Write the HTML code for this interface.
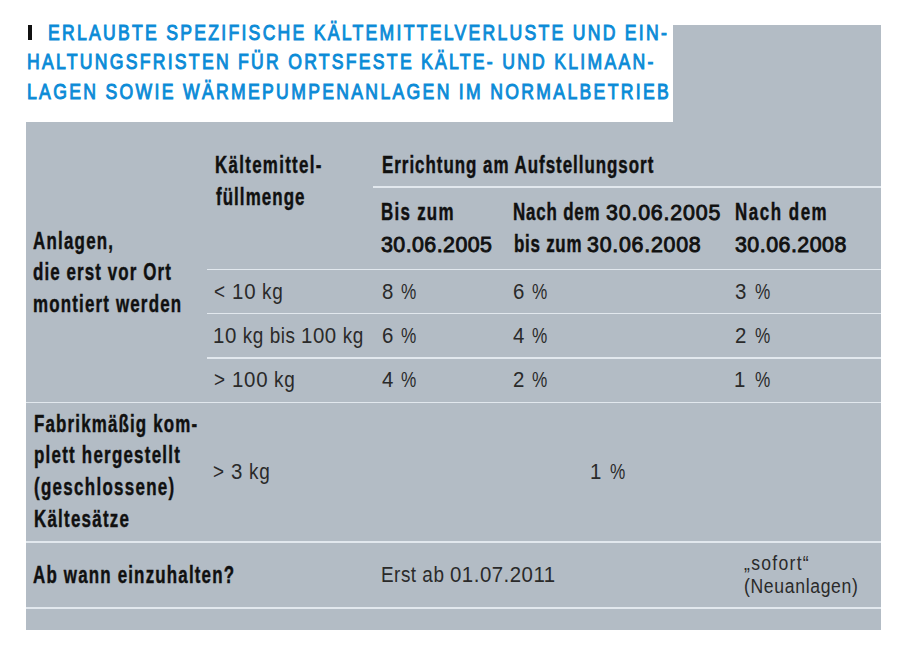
<!DOCTYPE html>
<html><head><meta charset="utf-8"><style>
html,body{margin:0;padding:0;background:#fff;}
body{width:900px;height:648px;position:relative;overflow:hidden;font-family:"Liberation Sans",sans-serif;}
#grey{position:absolute;left:26px;top:25px;width:855px;height:605px;background:#b3bcc5;}
#white{position:absolute;left:0;top:0;width:673px;height:122px;background:#ffffff;}
#bar{position:absolute;left:27.6px;top:24.5px;width:4.4px;height:15.7px;background:#111;}
.t,.b,.r{position:absolute;white-space:pre;line-height:1;}
.o{display:inline-block;white-space:pre;}
.i{display:inline-block;white-space:pre;transform-origin:0 0;}
.bl{display:inline-block;width:0;height:0;}
.b .dg{font-size:22.5px;font-weight:normal;-webkit-text-stroke:0.9px #101010;}
.t{font-size:22px;font-weight:normal;color:#0b8bd7;-webkit-text-stroke:1.0px #0b8bd7;}
.b{font-size:23.5px;font-weight:bold;color:#101010;-webkit-text-stroke:0.45px #101010;}
.r{font-size:21.5px;font-weight:normal;color:#2a2a2a;}
.ln{position:absolute;height:1.8px;background:#e2e8ee;}
</style></head><body>
<div id="grey"></div>
<div id="white"></div>
<div id="bar"></div>
<div class="ln" style="left:373px;top:186.10px;width:508px"></div>
<div class="ln" style="left:207px;top:268.70px;width:674px"></div>
<div class="ln" style="left:207px;top:312.70px;width:674px"></div>
<div class="ln" style="left:207px;top:357.10px;width:674px"></div>
<div class="ln" style="left:26px;top:401.60px;width:855px"></div>
<div class="ln" style="left:26px;top:540.90px;width:855px"></div>
<div class="ln" style="left:26px;top:607.00px;width:855px"></div>
<div class="t" id="e0" style="left:47.50px;top:22.00px"><span class="o" style="width:621.032px"><span class="i" style="letter-spacing:2.837px;transform:scaleX(0.8000)">ERLAUBTE SPEZIFISCHE KÄLTEMITTELVERLUSTE UND EIN-</span></span><span class="bl"></span></div>
<div class="t" id="e1" style="left:27.00px;top:51.31px"><span class="o" style="width:628.533px"><span class="i" style="letter-spacing:2.838px;transform:scaleX(0.8000)">HALTUNGSFRISTEN FÜR ORTSFESTE KÄLTE- UND KLIMAAN-</span></span><span class="bl"></span></div>
<div class="t" id="e2" style="left:27.00px;top:80.50px"><span class="o" style="width:644.060px"><span class="i" style="letter-spacing:2.903px;transform:scaleX(0.8000)">LAGEN SOWIE WÄRMEPUMPENANLAGEN IM NORMALBETRIEB</span></span><span class="bl"></span></div>
<div class="b" id="e3" style="left:214.50px;top:153.50px"><span class="o" style="width:107.672px"><span class="i" style="letter-spacing:1.799px;transform:scaleX(0.7200)">Kältemittel-</span></span><span class="bl"></span></div>
<div class="b" id="e4" style="left:215.50px;top:185.50px"><span class="o" style="width:89.512px"><span class="i" style="letter-spacing:1.482px;transform:scaleX(0.7200)">füllmenge</span></span><span class="bl"></span></div>
<div class="b" id="e5" style="left:381.60px;top:153.50px"><span class="o" style="width:272.258px"><span class="i" style="letter-spacing:1.364px;transform:scaleX(0.7200)">Errichtung am Aufstellungsort</span></span><span class="bl"></span></div>
<div class="b" id="e6" style="left:381.00px;top:201.00px"><span class="o" style="width:73.797px"><span class="i" style="letter-spacing:1.772px;transform:scaleX(0.7200)">Bis zum</span></span><span class="bl"></span></div>
<div class="b" id="e7" style="left:381.00px;top:232.50px"><span class="o dg" style="width:111.378px"><span class="i" style="letter-spacing:0.462px;transform:scaleX(0.9500)">30.06.2005</span></span><span class="bl"></span></div>
<div class="b" id="e8" style="left:513.20px;top:201.21px"><span class="o" style="width:92.851px"><span class="i" style="letter-spacing:1.126px;transform:scaleX(0.7200)">Nach dem </span></span><span class="o dg" style="width:115.099px"><span class="i" style="letter-spacing:0.853px;transform:scaleX(0.9500)">30.06.2005</span></span><span class="bl"></span></div>
<div class="b" id="e9" style="left:513.60px;top:232.50px"><span class="o" style="width:73.694px"><span class="i" style="letter-spacing:1.042px;transform:scaleX(0.7200)">bis zum </span></span><span class="o dg" style="width:114.497px"><span class="i" style="letter-spacing:0.790px;transform:scaleX(0.9500)">30.06.2008</span></span><span class="bl"></span></div>
<div class="b" id="e10" style="left:735.20px;top:201.21px"><span class="o" style="width:93.159px"><span class="i" style="letter-spacing:2.136px;transform:scaleX(0.7200)">Nach dem</span></span><span class="bl"></span></div>
<div class="b" id="e11" style="left:735.20px;top:232.80px"><span class="o dg" style="width:111.823px"><span class="i" style="letter-spacing:0.508px;transform:scaleX(0.9500)">30.06.2008</span></span><span class="bl"></span></div>
<div class="b" id="e12" style="left:33.20px;top:229.71px"><span class="o" style="width:81.293px"><span class="i" style="letter-spacing:1.709px;transform:scaleX(0.7200)">Anlagen,</span></span><span class="bl"></span></div>
<div class="b" id="e13" style="left:33.20px;top:261.21px"><span class="o" style="width:138.876px"><span class="i" style="letter-spacing:1.527px;transform:scaleX(0.7200)">die erst vor Ort</span></span><span class="bl"></span></div>
<div class="b" id="e14" style="left:33.20px;top:292.90px"><span class="o" style="width:149.233px"><span class="i" style="letter-spacing:1.631px;transform:scaleX(0.7200)">montiert werden</span></span><span class="bl"></span></div>
<div class="b" id="e15" style="left:33.80px;top:412.61px"><span class="o" style="width:164.233px"><span class="i" style="letter-spacing:1.607px;transform:scaleX(0.7200)">Fabrikmäßig kom-</span></span><span class="bl"></span></div>
<div class="b" id="e16" style="left:33.80px;top:444.30px"><span class="o" style="width:147.014px"><span class="i" style="letter-spacing:1.719px;transform:scaleX(0.7200)">plett hergestellt</span></span><span class="bl"></span></div>
<div class="b" id="e17" style="left:33.80px;top:476.21px"><span class="o" style="width:141.485px"><span class="i" style="letter-spacing:1.817px;transform:scaleX(0.7200)">(geschlossene)</span></span><span class="bl"></span></div>
<div class="b" id="e18" style="left:33.80px;top:508.21px"><span class="o" style="width:96.086px"><span class="i" style="letter-spacing:1.723px;transform:scaleX(0.7200)">Kältesätze</span></span><span class="bl"></span></div>
<div class="b" id="e19" style="left:33.20px;top:563.80px"><span class="o" style="width:202.240px"><span class="i" style="letter-spacing:1.641px;transform:scaleX(0.7200)">Ab wann einzuhalten?</span></span><span class="bl"></span></div>
<div class="r" id="e20" style="left:214.00px;top:282.21px"><span class="o" style="width:17.877px"><span class="i" style="letter-spacing:0.892px;transform:scaleX(0.8800)">&lt; </span></span><span class="o" style="width:24.281px"><span class="i" style="letter-spacing:0.826px;transform:scaleX(0.9500)">10</span></span><span class="o" style="width:27.586px"><span class="i" style="letter-spacing:0.892px;transform:scaleX(0.8800)"> kg</span></span><span class="bl"></span></div>
<div class="r" id="e21" style="left:381.60px;top:282.21px"><span class="o" style="width:12.601px"><span class="i" style="letter-spacing:1.312px;transform:scaleX(0.9500)">8</span></span><span class="o" style="width:6.499px"><span class="i" style="letter-spacing:1.416px;transform:scaleX(0.8800)"> </span></span><span class="o" style="width:16.534px"><span class="i" style="letter-spacing:1.558px;transform:scaleX(0.8000)">%</span></span><span class="bl"></span></div>
<div class="r" id="e22" style="left:512.70px;top:282.21px"><span class="o" style="width:12.901px"><span class="i" style="letter-spacing:1.627px;transform:scaleX(0.9500)">6</span></span><span class="o" style="width:6.799px"><span class="i" style="letter-spacing:1.757px;transform:scaleX(0.8800)"> </span></span><span class="o" style="width:16.834px"><span class="i" style="letter-spacing:1.933px;transform:scaleX(0.8000)">%</span></span><span class="bl"></span></div>
<div class="r" id="e23" style="left:735.20px;top:282.21px"><span class="o" style="width:12.851px"><span class="i" style="letter-spacing:1.575px;transform:scaleX(0.9500)">3</span></span><span class="o" style="width:6.749px"><span class="i" style="letter-spacing:1.700px;transform:scaleX(0.8800)"> </span></span><span class="o" style="width:16.784px"><span class="i" style="letter-spacing:1.870px;transform:scaleX(0.8000)">%</span></span><span class="bl"></span></div>
<div class="r" id="e24" style="left:213.00px;top:326.21px"><span class="o" style="width:23.781px"><span class="i" style="letter-spacing:0.563px;transform:scaleX(0.9500)">10</span></span><span class="o" style="width:64.204px"><span class="i" style="letter-spacing:0.608px;transform:scaleX(0.8800)"> kg bis </span></span><span class="o" style="width:35.672px"><span class="i" style="letter-spacing:0.563px;transform:scaleX(0.9500)">100</span></span><span class="o" style="width:26.837px"><span class="i" style="letter-spacing:0.608px;transform:scaleX(0.8800)"> kg</span></span><span class="bl"></span></div>
<div class="r" id="e25" style="left:381.60px;top:326.21px"><span class="o" style="width:12.601px"><span class="i" style="letter-spacing:1.312px;transform:scaleX(0.9500)">6</span></span><span class="o" style="width:6.499px"><span class="i" style="letter-spacing:1.416px;transform:scaleX(0.8800)"> </span></span><span class="o" style="width:16.534px"><span class="i" style="letter-spacing:1.558px;transform:scaleX(0.8000)">%</span></span><span class="bl"></span></div>
<div class="r" id="e26" style="left:512.70px;top:326.21px"><span class="o" style="width:12.901px"><span class="i" style="letter-spacing:1.627px;transform:scaleX(0.9500)">4</span></span><span class="o" style="width:6.799px"><span class="i" style="letter-spacing:1.757px;transform:scaleX(0.8800)"> </span></span><span class="o" style="width:16.834px"><span class="i" style="letter-spacing:1.933px;transform:scaleX(0.8000)">%</span></span><span class="bl"></span></div>
<div class="r" id="e27" style="left:735.20px;top:326.21px"><span class="o" style="width:12.851px"><span class="i" style="letter-spacing:1.575px;transform:scaleX(0.9500)">2</span></span><span class="o" style="width:6.749px"><span class="i" style="letter-spacing:1.700px;transform:scaleX(0.8800)"> </span></span><span class="o" style="width:16.784px"><span class="i" style="letter-spacing:1.870px;transform:scaleX(0.8000)">%</span></span><span class="bl"></span></div>
<div class="r" id="e28" style="left:214.00px;top:369.81px"><span class="o" style="width:17.837px"><span class="i" style="letter-spacing:0.869px;transform:scaleX(0.8800)">&gt; </span></span><span class="o" style="width:36.361px"><span class="i" style="letter-spacing:0.805px;transform:scaleX(0.9500)">100</span></span><span class="o" style="width:27.526px"><span class="i" style="letter-spacing:0.869px;transform:scaleX(0.8800)"> kg</span></span><span class="bl"></span></div>
<div class="r" id="e29" style="left:381.60px;top:369.81px"><span class="o" style="width:12.601px"><span class="i" style="letter-spacing:1.312px;transform:scaleX(0.9500)">4</span></span><span class="o" style="width:6.499px"><span class="i" style="letter-spacing:1.416px;transform:scaleX(0.8800)"> </span></span><span class="o" style="width:16.534px"><span class="i" style="letter-spacing:1.558px;transform:scaleX(0.8000)">%</span></span><span class="bl"></span></div>
<div class="r" id="e30" style="left:512.70px;top:369.81px"><span class="o" style="width:12.901px"><span class="i" style="letter-spacing:1.627px;transform:scaleX(0.9500)">2</span></span><span class="o" style="width:6.799px"><span class="i" style="letter-spacing:1.757px;transform:scaleX(0.8800)"> </span></span><span class="o" style="width:16.834px"><span class="i" style="letter-spacing:1.933px;transform:scaleX(0.8000)">%</span></span><span class="bl"></span></div>
<div class="r" id="e31" style="left:734.20px;top:369.81px"><span class="o" style="width:13.351px"><span class="i" style="letter-spacing:2.101px;transform:scaleX(0.9500)">1</span></span><span class="o" style="width:7.249px"><span class="i" style="letter-spacing:2.268px;transform:scaleX(0.8800)"> </span></span><span class="o" style="width:17.284px"><span class="i" style="letter-spacing:2.495px;transform:scaleX(0.8000)">%</span></span><span class="bl"></span></div>
<div class="r" id="e32" style="left:213.20px;top:461.91px"><span class="o" style="width:17.813px"><span class="i" style="letter-spacing:0.856px;transform:scaleX(0.8800)">&gt; </span></span><span class="o" style="width:12.108px"><span class="i" style="letter-spacing:0.793px;transform:scaleX(0.9500)">3</span></span><span class="o" style="width:27.490px"><span class="i" style="letter-spacing:0.856px;transform:scaleX(0.8800)"> kg</span></span><span class="bl"></span></div>
<div class="r" id="e33" style="left:590.00px;top:461.81px"><span class="o" style="width:12.951px"><span class="i" style="letter-spacing:1.680px;transform:scaleX(0.9500)">1</span></span><span class="o" style="width:6.849px"><span class="i" style="letter-spacing:1.814px;transform:scaleX(0.8800)"> </span></span><span class="o" style="width:16.884px"><span class="i" style="letter-spacing:1.995px;transform:scaleX(0.8000)">%</span></span><span class="bl"></span></div>
<div class="r" id="e34" style="left:380.60px;top:564.71px"><span class="o" style="width:69.133px"><span class="i" style="letter-spacing:0.562px;transform:scaleX(0.8800)">Erst ab </span></span><span class="o" style="width:105.617px"><span class="i" style="letter-spacing:0.521px;transform:scaleX(0.9500)">01.07.2011</span></span><span class="bl"></span></div>
<div class="r" id="e35" style="left:744.00px;top:552.72px;font-size:20px"><span class="o" style="width:65.977px"><span class="i" style="letter-spacing:1.454px;transform:scaleX(0.8800)">„sofort“</span></span><span class="bl"></span></div>
<div class="r" id="e36" style="left:744.00px;top:576.01px;font-size:20px"><span class="o" style="width:114.448px"><span class="i" style="letter-spacing:0.739px;transform:scaleX(0.8800)">(Neuanlagen)</span></span><span class="bl"></span></div>
</body></html>
